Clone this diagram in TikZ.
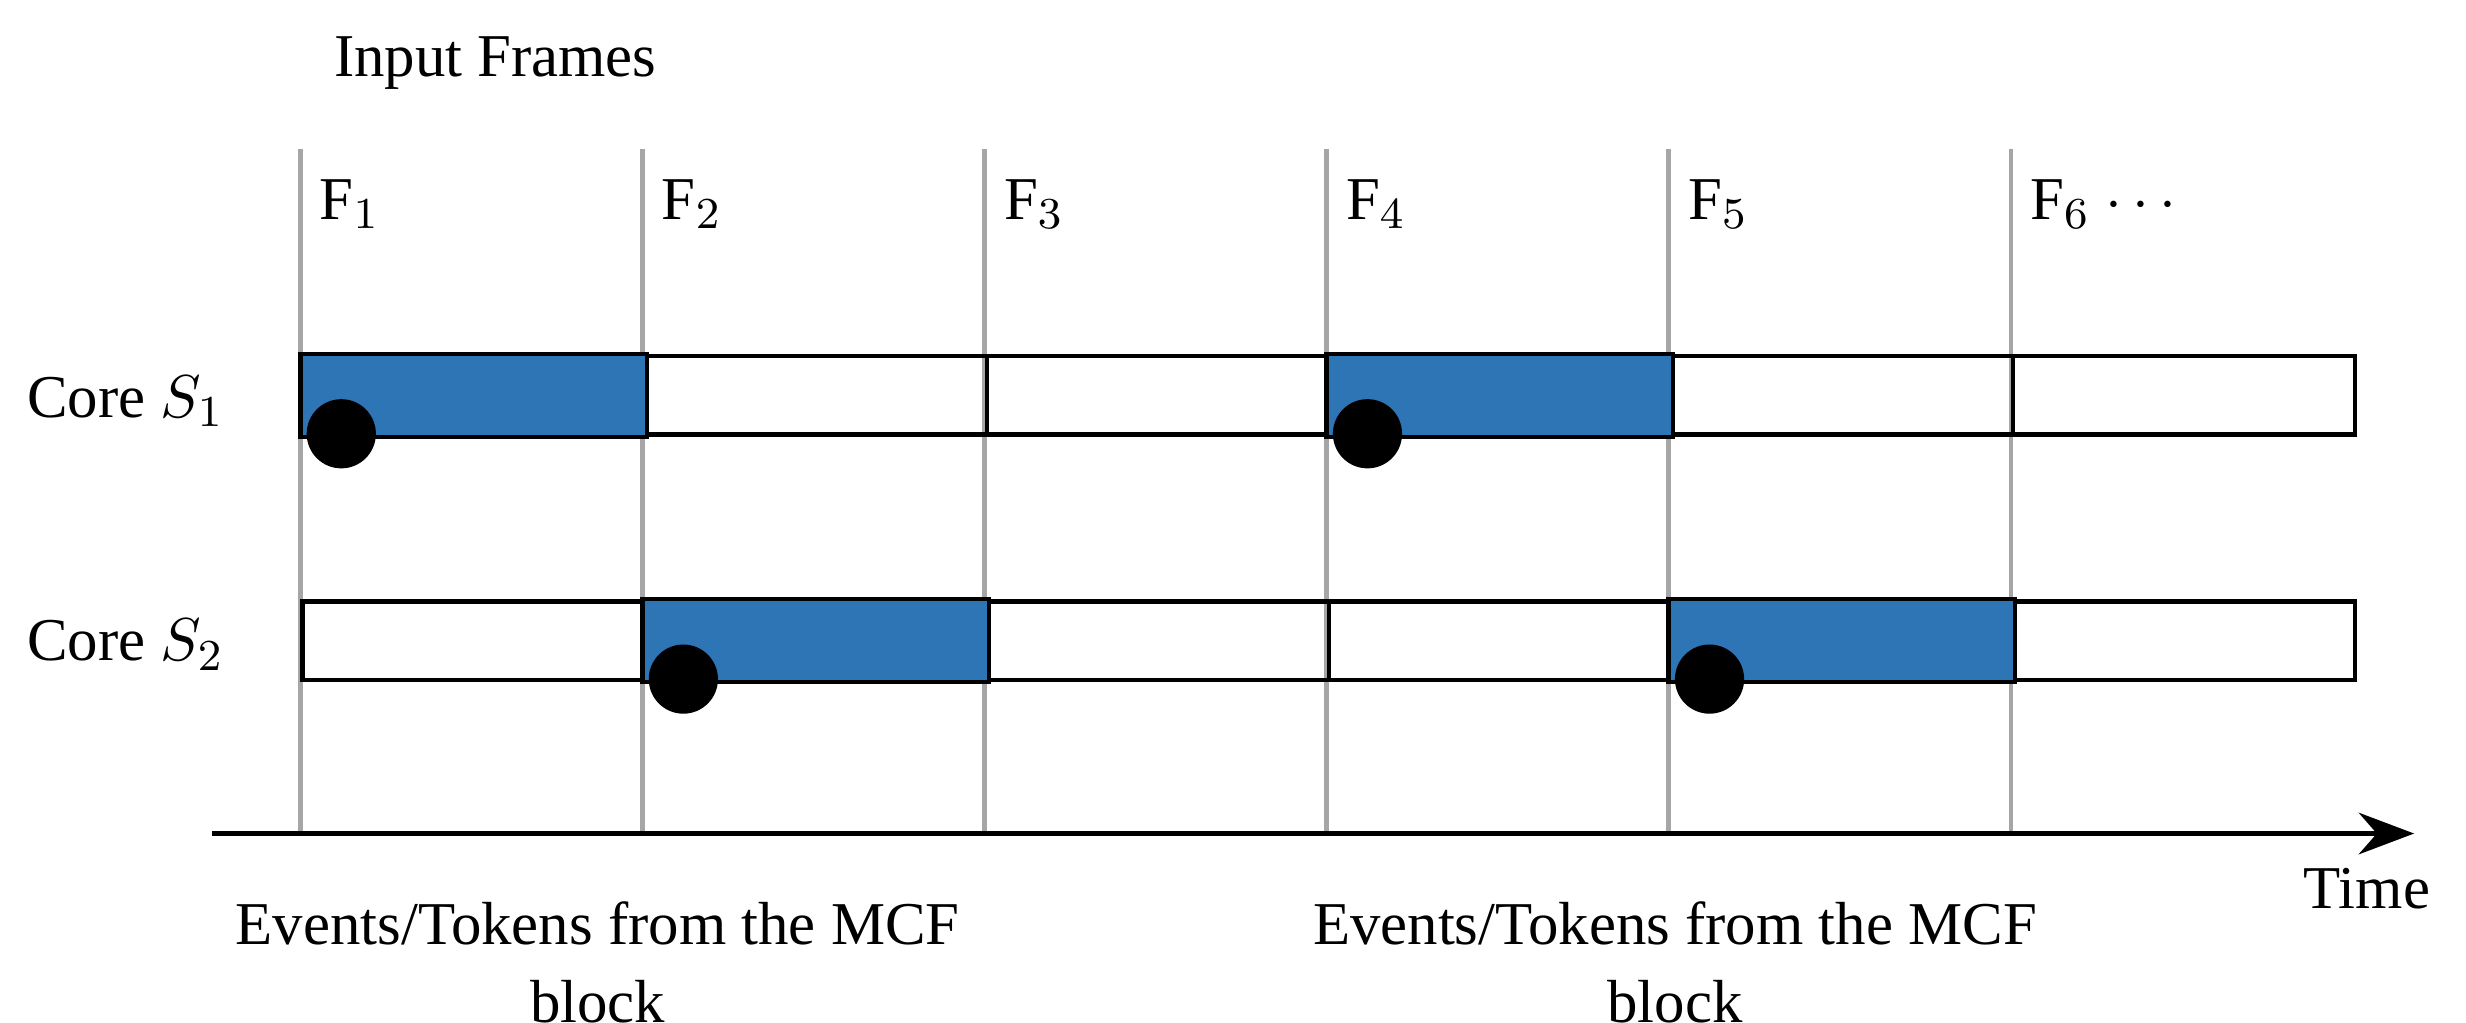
\documentclass[tikz,border=0pt]{standalone}
\usepackage{fontspec}
\setmainfont{Liberation Serif}
\usetikzlibrary{arrows.meta, calc}
\definecolor{slotblue}{RGB}{46,117,182}
\begin{document}
\begin{tikzpicture}[
        lbl/.style={font=\fontsize{11}{14}\selectfont},
        frame/.style={gray!70, line width=0.8pt},
        slot/.style={draw=black, line width=0.8pt, minimum width=2.175cm, minimum height=0.5cm, inner sep=0pt},
        token/.style={circle, fill=black, minimum size=0.44cm, inner sep=0pt}
]
        \useasboundingbox (0,0) rectangle (15.68,6.50);

        % frame boundaries
        \foreach \i/\x in {1/1.91, 2/4.085, 3/6.26, 4/8.435, 5/10.61, 6/12.785}
        {
                \coordinate (top\i) at (\x, 5.55);
                \coordinate (bot\i) at (\x, 1.20);
                \draw[frame] (top\i) -- (bot\i);
        }
        \foreach \i in {1, ..., 5}
        {
                \node[lbl, anchor=west] at (top\i |- 0,5.20) {F$_{\i}$};
        }
        \node[lbl, anchor=west] at (top6 |- 0,5.20) {F$_{6}$ $\cdots$};

        % slots
        \foreach \i in {1, ..., 6}
        {
                \node[slot, anchor=north west] (a\i) at (top\i |- 0,4.25) {};
                \node[slot, anchor=north west] (b\i) at (top\i |- 0,2.69) {};
        }
        \foreach \c in {a1, a4, b2, b5}
        {
                \fill[slotblue] (\c.north west) rectangle (\c.south east);
                \draw[line width=0.8pt] (\c.north west) rectangle (\c.south east);
                \node[token] at ($(\c.south west)+(0.26,0.02)$) {};
        }

        \node[lbl] (s1) at (0.8, 3.95) {Core $S_1$};
        \node[lbl] (s2) at (0.8, 2.40) {Core $S_2$};
        \node[lbl, anchor=west] (title) at (2.0, 6.10) {Input Frames};

        % time axis
        \coordinate (t0) at (1.35, 1.20);
        \coordinate (t1) at (15.35, 1.20);
        \draw[-{Stealth[length=10pt]}, line width=1pt] (t0) -- (t1);
        \node[lbl] (time) at (15.05, 0.85) {Time};

        \node[lbl, align=center] (ev1) at (3.8, 0.38) {Events/Tokens from the MCF\\block};
        \node[lbl, align=center] (ev2) at (10.65, 0.38) {Events/Tokens from the MCF\\block};
\end{tikzpicture}
\end{document}
